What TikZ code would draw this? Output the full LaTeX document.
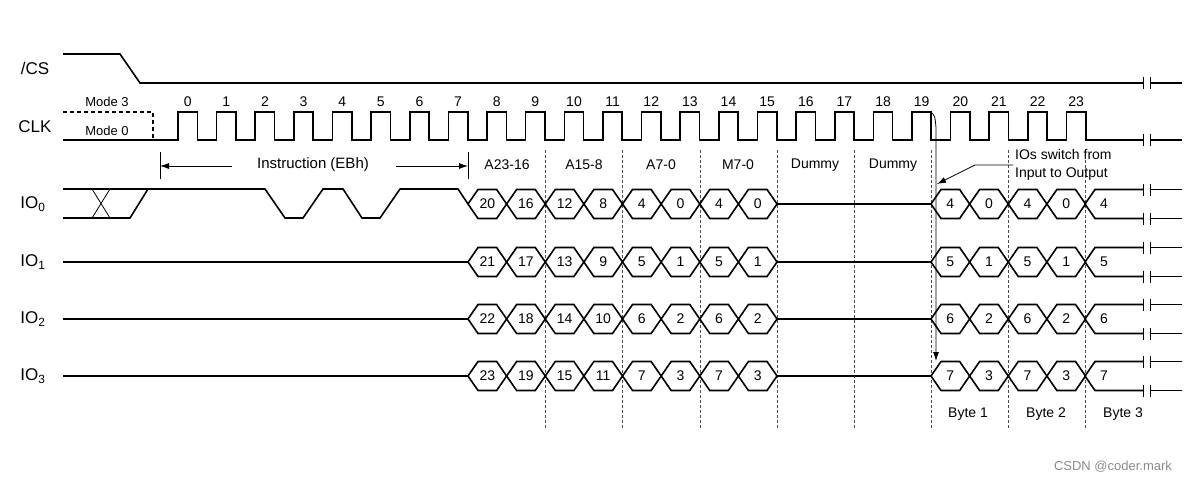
\documentclass[tikz,border=0pt]{standalone}
\usepackage{fontspec}
\setmainfont{Liberation Sans}
\usetikzlibrary{arrows.meta}
\newcommand\fs[1]{\fontsize{#1}{#1}\selectfont}
\tikzset{sig/.style={line width=1.6pt,line join=miter},
 thin/.style={line width=0.8pt},
 sep/.style={line width=0.7pt,dash pattern=on 3pt off 2pt,black!70},
 lbl/.style={font=\fs{14},inner sep=0pt},
 big/.style={font=\fs{17},inner sep=0pt}}
\newcommand\cell[3]{%
 \draw[sig,fill=white] (#1,#2) -- ++(10,-14.5) -- ++(18.63,0) -- ++(10,14.5) -- ++(-10,14.5) -- ++(-18.63,0) -- cycle;
 \node[lbl] at ({#1+19.3},#2) {#3};}
\newcommand\brk[1]{%
 \draw[thin] (1143,#1-6) -- (1143,#1+6) (1150,#1-6) -- (1150,#1+6);}
\begin{document}
\begin{tikzpicture}[x=1pt,y=-1pt]
\useasboundingbox (0,0) rectangle (1200,483);
% separators
\foreach \x in {545,622,700,777,854,931,1008,1085} \draw[sep] (\x,150) -- (\x,428);
% labels
\node[big] at (35,68) {/CS};
\node[big] at (35,127) {CLK};
\node[big] at (33,204) {IO\textsubscript{0}};
\node[big] at (33,262) {IO\textsubscript{1}};
\node[big] at (33,319) {IO\textsubscript{2}};
\node[big] at (33,376) {IO\textsubscript{3}};
\node[font=\fs{13},inner sep=0pt] at (107,102) {Mode 3};
\node[font=\fs{13},inner sep=0pt] at (107,131) {Mode 0};
% CS
\draw[sig] (63,54) -- (120,54) -- (140,83) -- (1143,83);
\draw[sig] (1150,83) -- (1182,83); \brk{83}
% CLK
\draw[sig,dash pattern=on 4pt off 3pt] (63,112) -- (153,112) -- (153,140);
\draw[sig] (63,140) foreach \k in {0,...,23}{ -- ({178+\k*38.63},140) -- ++(0,-28) -- ++(19.315,0) -- ++(0,28)} -- (1143,140);
\draw[sig] (1150,140) -- (1182,140); \brk{140}
\foreach \k in {0,...,23} \node[lbl] at ({187.7+\k*38.63},102) {\k};
% instruction
\draw[thin] (160,152) -- (160,179) (468,152) -- (468,179);
\node[font=\fs{15},inner sep=0pt] (ins) at (313,165) {Instruction (EBh)};
\draw[thin,-{Latex[length=9pt,width=6pt]}] (232,166) -- (160,166);
\draw[thin,-{Latex[length=9pt,width=6pt]}] (396,166) -- (468,166);
\foreach \t/\x in {A23-16/507,A15-8/584,A7-0/661,M7-0/738,Dummy/815,Dummy/893}
  \node[lbl] at (\x,165) {\t};
\foreach \t/\x in {Byte 1/968,Byte 2/1046,Byte 3/1123}
  \node[lbl] at (\x,414) {\t};
% IO0 preamble
\draw[sig] (63,189) -- (265,189) -- (285,218) -- (303,218) -- (323,189) -- (343,189) -- (362,218) -- (380,218) -- (400,189) -- (458,189) -- (468,204);
\draw[sig] (63,218) -- (130,218) -- (148,189);
\draw[thin] (92,189) -- (110,218) (92,218) -- (110,189);
\foreach \c in {262,319,376} \draw[sig] (63,\c) -- (468,\c);
\foreach \c in {204,262,319,376} \draw[sig] (777,\c) -- (931,\c);
% buses
\foreach \c/\a/\b/\cc/\d/\e/\f in {204/20/16/12/8/4/0,262/21/17/13/9/5/1,319/22/18/14/10/6/2,376/23/19/15/11/7/3}{
  \foreach \v [count=\i from 0] in {\a,\b,\cc,\d,\e,\f,\e,\f}{
    \pgfmathsetmacro\xx{468+\i*38.63}\cell{\xx}{\c}{\v}}
  \foreach \v [count=\i from 0] in {\e,\f,\e,\f}{
    \pgfmathsetmacro\xx{931+\i*38.63}\cell{\xx}{\c}{\v}}
  \draw[sig] (1143,\c-14.5) -- (1095,\c-14.5) -- (1085,\c) -- (1095,\c+14.5) -- (1143,\c+14.5);
  \draw[sig] (1150,\c-14.5) -- (1182,\c-14.5) (1150,\c+14.5) -- (1182,\c+14.5);
  \brk{\c-14.5}\brk{\c+14.5}
  \node[lbl] at (1104,\c) {\e};
}
% switch arrow
\node[lbl,align=left,anchor=west] (sw) at (1015,165) {IOs switch from\\[4pt]Input to Output};
\draw[thin,-{Latex[length=9pt,width=6pt]}] (1013,165) -- (975,165) -- (937,184);
\draw[thin,-{Latex[length=9pt,width=6pt]}] (931,112) .. controls (935,116) .. (936,128) -- (936,361);
% watermark
\node[font=\fs{13},text=black!45,inner sep=0pt] at (1113,467) {CSDN @coder.mark};
\end{tikzpicture}
\end{document}
